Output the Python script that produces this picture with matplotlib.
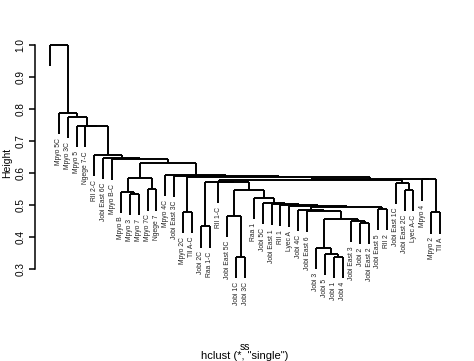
import matplotlib.pyplot as plt

plt.rcParams['font.family'] = ['Liberation Sans', 'DejaVu Sans']

# leaves in the order they are drawn (first leaf has no visible label)
labels = [
    "", "Mpyo 5C", "Mpyo 3C", "Mpyo 5", "Ngege 7-C", "Rll 2-C", "Jobi East 6C",
    "Mpyo B-C", "Mpyo B", "Mpyo 3", "Mpyo 7", "Mpyo 7C", "Ngege 7", "Mpyo 4C",
    "Jobi East 3C", "Mpyo 2C", "Tll A-C", "Jobi 2C", "Raa 1-C", "Rll 1-C",
    "Jobi East 5C", "Jobi 1C", "Jobi 3C", "Raa 1", "Jobi 5C", "Jobi East 1",
    "Rll 1", "Lyec A", "Jobi 4C", "Jobi East 6", "Jobi 3", "Jobi 5", "Jobi 1",
    "Jobi 4", "Jobi East 3", "Jobi 2", "Jobi East 2", "Jobi East 5", "Rll 2",
    "Jobi East 1C", "Jobi East 2C", "Lyec A-C", "Mpyo 4", "Mpyo 2", "Tll A",
]

# merges: (left, right, height); str = leaf label, int = earlier merge row
merges = [
    ("Jobi 1", "Jobi 4", 0.339),          # 0
    ("Jobi 5", 0, 0.347),                 # 1
    ("Jobi 3", 1, 0.365),                 # 2
    ("Jobi 2", "Jobi East 2", 0.444),     # 3
    ("Jobi East 3", 3, 0.450),            # 4
    (2, 4, 0.456),                        # 5
    ("Jobi East 6", 5, 0.481),            # 6
    ("Jobi 4C", 6, 0.485),                # 7
    ("Jobi East 5", "Rll 2", 0.487),      # 8
    (7, 8, 0.493),                        # 9
    ("Lyec A", 9, 0.498),                 # 10
    ("Rll 1", 10, 0.500),                 # 11
    ("Jobi East 1", 11, 0.503),           # 12
    ("Jobi 5C", 12, 0.506),               # 13
    ("Raa 1", 13, 0.523),                 # 14
    ("Jobi 1C", "Jobi 3C", 0.337),        # 15
    ("Jobi East 5C", 15, 0.467),          # 16
    (16, 14, 0.547),                      # 17
    ("Rll 1-C", 17, 0.571),               # 18
    ("Jobi 2C", "Raa 1-C", 0.433),        # 19
    (19, 18, 0.573),                      # 20
    ("Jobi East 2C", "Lyec A-C", 0.547),  # 21
    ("Jobi East 1C", 21, 0.569),          # 22
    (20, 22, 0.577),                      # 23
    ("Mpyo 2", "Tll A", 0.477),           # 24
    ("Mpyo 4", 24, 0.580),                # 25
    (23, 25, 0.582),                      # 26
    ("Mpyo 2C", "Tll A-C", 0.479),        # 27
    (27, 26, 0.589),                      # 28
    ("Jobi East 3C", 28, 0.591),          # 29
    ("Mpyo 4C", 29, 0.594),               # 30
    ("Mpyo 3", "Mpyo 7", 0.534),          # 31
    ("Mpyo B", 31, 0.542),                # 32
    ("Mpyo 7C", "Ngege 7", 0.549),        # 33
    (32, 33, 0.585),                      # 34
    (34, 30, 0.630),                      # 35
    ("Mpyo B-C", 35, 0.643),              # 36
    ("Jobi East 6C", 36, 0.648),          # 37
    ("Rll 2-C", 37, 0.656),               # 38
    ("Ngege 7-C", 38, 0.746),             # 39
    ("Mpyo 5", 39, 0.748),                # 40
    ("Mpyo 3C", 40, 0.775),               # 41
    ("Mpyo 5C", 41, 0.787),               # 42
    ("", 42, 1.000),                      # 43
]

heights = [m[2] for m in merges]
hang = 0.1 * (max(heights) - min(heights))
leaf_x = {name: i for i, name in enumerate(labels)}

fig = plt.figure(figsize=(4.74, 3.61), dpi=100)
ax = fig.add_axes([35 / 474, 61 / 361, 420 / 474, 270 / 361])

centers = []
for left, right, h in merges:
    xs = []
    for child in (left, right):
        if isinstance(child, str):
            x = leaf_x[child]
            bottom = h - hang
            ax.text(x, bottom - 0.012, child, rotation=90, ha="center",
                    va="top", fontsize=4.9, color="#222222")
        else:
            x = centers[child]
            bottom = heights[child]
        ax.plot([x, x], [bottom, h], color="black", lw=1.4,
                solid_capstyle="butt")
        xs.append(x)
    ax.plot(xs, [h, h], color="black", lw=1.4, solid_capstyle="butt")
    centers.append((xs[0] + xs[1]) / 2)

ax.set_xlim(-1.692, 45.69)
ax.set_ylim(0.2031, 1.0469)
ax.set_xticks([])
ticks = [0.3, 0.4, 0.5, 0.6, 0.7, 0.8, 0.9, 1.0]
ax.set_yticks(ticks)
ax.set_yticklabels([f"{t:.1f}" for t in ticks], rotation=90, va="center",
                   fontsize=7.2)
ax.tick_params(axis="y", length=4, width=1.1, pad=3)
for side in ["top", "right", "bottom"]:
    ax.spines[side].set_visible(False)
ax.spines["left"].set_bounds(0.3, 1.0)
ax.spines["left"].set_linewidth(1.1)
ax.patch.set_visible(False)

fig.text(7 / 474, 1 - 163 / 361, "Height", rotation=90, ha="center",
         va="center", fontsize=7.5)
fig.text(245 / 474, 1 - 350 / 361, "ss", ha="center", va="baseline",
         fontsize=7.5)
fig.text(245 / 474, 1 - 359 / 361, 'hclust (*, "single")', ha="center",
         va="baseline", fontsize=8)

fig.savefig("out.png", dpi=100)
